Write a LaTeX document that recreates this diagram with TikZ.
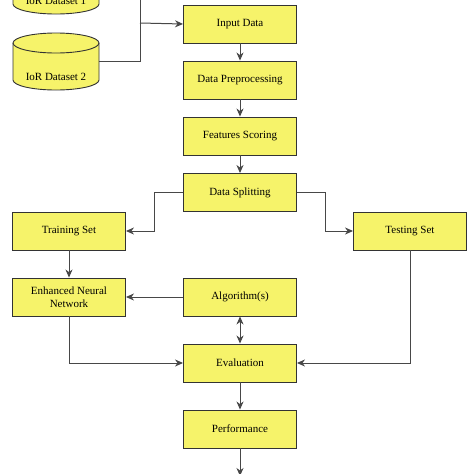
\documentclass[tikz,border=0pt]{standalone}
\usepackage{fontspec}
\setmainfont{Liberation Serif}
\usetikzlibrary{arrows.meta}
\definecolor{boxfill}{HTML}{F6F36A}
\definecolor{edge}{HTML}{333333}
\begin{document}
\begin{tikzpicture}[x=1pt,y=-1pt,
  box/.style={draw=edge,line width=0.9pt,fill=boxfill,minimum width=113pt,minimum height=38pt,inner sep=1pt,align=center,font=\fontsize{11}{13}\selectfont},
  conn/.style={draw=edge!90,line width=1pt},
  arr/.style={conn,-{Stealth[length=8pt,width=7pt,inset=2.5pt]}},
  darr/.style={conn,{Stealth[length=8pt,width=7pt,inset=2.5pt]}-{Stealth[length=8pt,width=7pt,inset=2.5pt]}},
  dbtext/.style={font=\fontsize{11}{13}\selectfont}]
\useasboundingbox (0,0) rectangle (474,474);
\clip (0,0) rectangle (474,474);
\fill[white] (0,0) rectangle (474,474);
% cylinders
\foreach \dy in {-76,0}{
  \begin{scope}[yshift=-\dy pt]
  \path[draw=edge,line width=0.9pt,fill=boxfill] (13,43) -- (13,80) arc[start angle=180,end angle=0,x radius=43,y radius=10] -- (99,43) arc[start angle=0,end angle=-180,x radius=43,y radius=10] -- cycle;
  \path[draw=edge,line width=0.9pt] (13,43) arc[start angle=180,end angle=0,x radius=43,y radius=10];
  \end{scope}
}
\node[dbtext] (db1) at (56,0.5) {IoR Dataset 1};
\node[dbtext] (db2) at (56,77) {IoR Dataset 2};
\coordinate (db1r) at (99,-15);
\coordinate (db2r) at (99,61);
\coordinate (join) at (140,23);
% boxes
\node[box] (input) at (240,24) {Input Data};
\node[box] (prep) at (240,80) {Data Preprocessing};
\node[box] (feat) at (240,136) {Features Scoring};
\node[box] (split) at (240,192.5) {Data Splitting};
\node[box] (train) at (69,231) {Training Set};
\node[box] (test) at (410,231) {Testing Set};
\node[box] (enn) at (69,297) {Enhanced Neural\\Network};
\node[box] (algo) at (240,297) {Algorithm(s)};
\node[box] (eval) at (240,363) {Evaluation};
\node[box] (perf) at (240,429) {Performance};
\coordinate (out) at (240,476);
% connectors
\draw[conn] (db1r) -| (join);
\draw[conn] (db2r) -| (join);
\draw[arr] (join) -- (input.west);
\draw[arr] (input) -- (prep);
\draw[arr] (prep) -- (feat);
\draw[arr] (feat) -- (split);
\draw[arr] (split.west) -- (154,192.5) |- (train.east);
\draw[arr] (split.east) -- (325,192.5) |- (test.west);
\draw[arr] (train) -- (enn);
\draw[arr] (algo) -- (enn);
\draw[darr] (algo) -- (eval);
\draw[arr] (enn.south) |- (eval.west);
\draw[arr] (test.south) |- (eval.east);
\draw[arr] (eval) -- (perf);
\draw[arr] (perf) -- (out);
\end{tikzpicture}
\end{document}
